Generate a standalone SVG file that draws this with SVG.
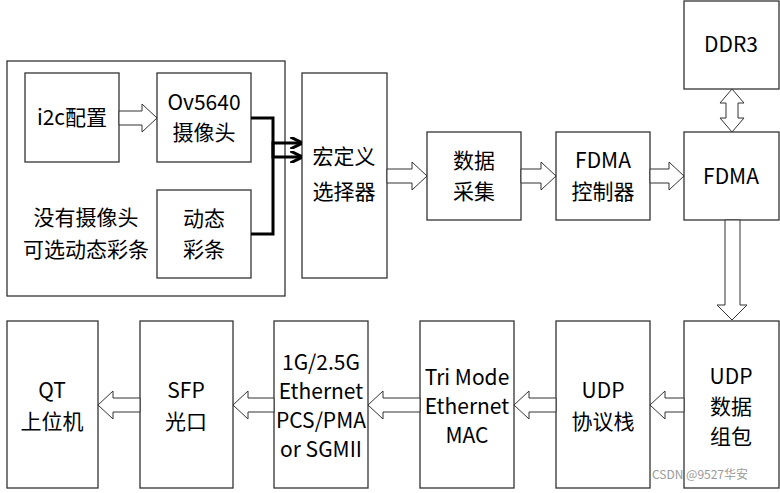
<svg xmlns="http://www.w3.org/2000/svg" width="780" height="493" viewBox="0 0 780 493">
<style>
.b{fill:#fff;stroke:#333;stroke-width:1.3}
.a{fill:#fff;stroke:#333;stroke-width:1}
text{font-family:"Noto Sans CJK SC","Liberation Sans",sans-serif;font-size:21px;fill:#000;text-anchor:middle}
</style>
<defs>
<marker id="m" viewBox="0 0 10 10" refX="8" refY="5" markerWidth="4" markerHeight="4" orient="auto"><path d="M0,0L10,5L0,10" fill="none" stroke="#000" stroke-width="2.5"/></marker>
</defs>
<rect width="780" height="493" fill="#fff"/>
<g id="outer"><rect class="b" x="7" y="61" width="278" height="235"/><text x="86" y="225">没有摄像头</text><text x="86" y="257">可选动态彩条</text></g>
<g id="i2c"><rect class="b" x="25" y="73" width="94" height="89"/><text x="72" y="125">i2c配置</text></g>
<g id="ov"><rect class="b" x="157" y="73" width="94" height="89"/><text x="204" y="110">Ov5640</text><text x="204" y="140">摄像头</text></g>
<g id="cb"><rect class="b" x="157" y="190" width="94" height="88"/><text x="204" y="226">动态</text><text x="204" y="257">彩条</text></g>
<g id="sel"><rect class="b" x="302" y="73" width="85" height="205"/><text x="344" y="164">宏定义</text><text x="344" y="199">选择器</text></g>
<g id="cap"><rect class="b" x="427" y="132" width="94" height="88"/><text x="474" y="168">数据</text><text x="474" y="199">采集</text></g>
<g id="ctl"><rect class="b" x="556" y="132" width="94" height="88"/><text x="603" y="168">FDMA</text><text x="603" y="199">控制器</text></g>
<g id="fdma"><rect class="b" x="684" y="132" width="95" height="88"/><text x="731" y="184">FDMA</text></g>
<g id="ddr"><rect class="b" x="684" y="1" width="95" height="88"/><text x="731" y="52">DDR3</text></g>
<g id="qt"><rect class="b" x="7" y="321" width="91" height="167"/><text x="52" y="398">QT</text><text x="52" y="429">上位机</text></g>
<g id="sfp"><rect class="b" x="140" y="321" width="93" height="167"/><text x="186" y="398">SFP</text><text x="186" y="429">光口</text></g>
<g id="pcs"><rect class="b" x="274" y="321" width="94" height="167"/><text x="321" y="370">1G/2.5G</text><text x="321" y="399">Ethernet</text><text x="321" y="428">PCS/PMA</text><text x="321" y="457">or SGMII</text></g>
<g id="mac"><rect class="b" x="420" y="321" width="94" height="167"/><text x="467" y="385">Tri Mode</text><text x="467" y="414">Ethernet</text><text x="467" y="443">MAC</text></g>
<g id="udp"><rect class="b" x="556" y="321" width="94" height="167"/><text x="603" y="398">UDP</text><text x="603" y="429">协议栈</text></g>
<g id="pkt"><rect class="b" x="684" y="321" width="95" height="167"/><text x="731" y="384">UDP</text><text x="731" y="414">数据</text><text x="731" y="444">组包</text></g>
<g id="connectors">
<path class="a" d="M119,111H142V104L157,118L142,132V125H119Z"/>
<path class="a" d="M387,169H412V162L427,176L412,190V183H387Z"/>
<path class="a" d="M521,169H541V162L556,176L541,190V183H521Z"/>
<path class="a" d="M650,169H669V162L684,176L669,190V183H650Z"/>
<path class="a" d="M732,89L744,103H738V118H744L732,132L720,118H726V103H720Z"/>
<path class="a" d="M725,220H740V305H747L732,320L717,305H725Z"/>
<path class="a" d="M684,398H665V391L650,405L665,419V412H684Z"/>
<path class="a" d="M556,398H529V391L514,405L529,419V412H556Z"/>
<path class="a" d="M420,398H383V391L368,405L383,419V412H420Z"/>
<path class="a" d="M274,398H248V391L233,405L248,419V412H274Z"/>
<path class="a" d="M140,398H113V391L98,405L113,419V412H140Z"/>
<path d="M251,118H273V157H300" fill="none" stroke="#000" stroke-width="3" marker-end="url(#m)"/>
<path d="M251,234H273V143H300" fill="none" stroke="#000" stroke-width="3" marker-end="url(#m)"/>
</g>
<text x="700" y="479" style="font-size:12px;fill:#999">CSDN @9527华安</text>
</svg>
